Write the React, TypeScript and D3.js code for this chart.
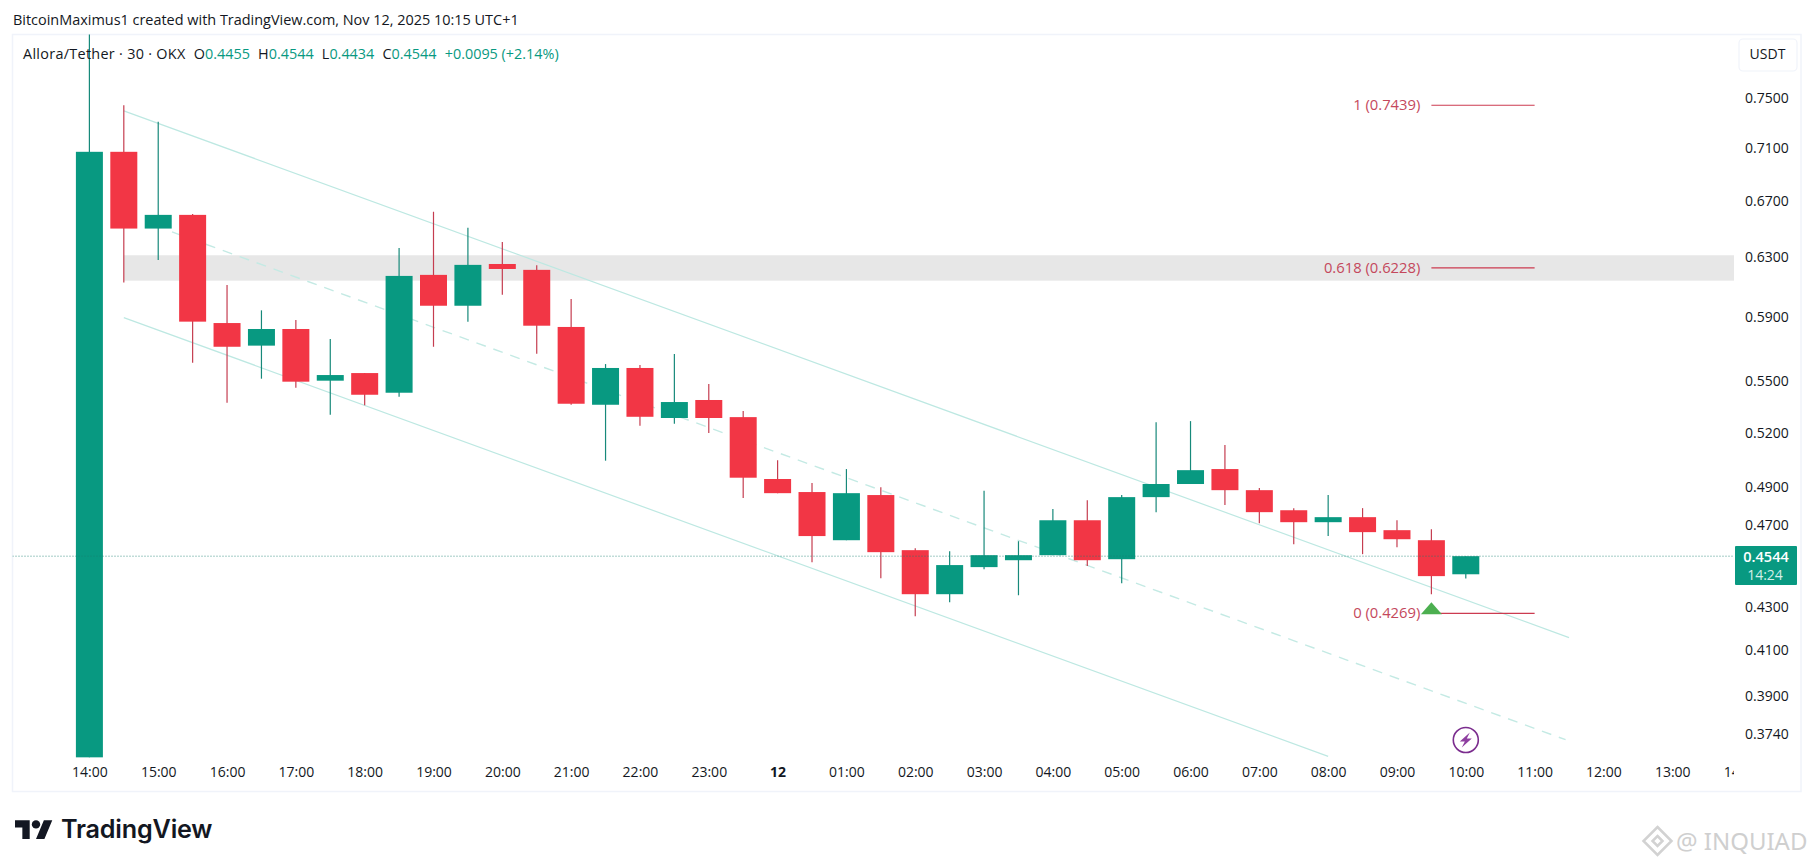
import { useEffect, useRef } from 'react';
import * as d3 from 'd3';

const WIDTH = 1814;
const HEIGHT = 867;
const FONT = '"Open Sans", "Noto Sans", sans-serif';
const GREEN = '#089981';
const RED = '#f23645';
const FIB_RED = '#c4485c';
const TEAL = '#bde8e2';

// 30 minute candles, starting at 14:00
const opens = [
  0.3647, 0.7070, 0.6501, 0.6599, 0.5863, 0.5720, 0.5825, 0.5505, 0.5551, 0.5433, 0.6180,
  0.5975, 0.6254, 0.6214, 0.5838, 0.5362, 0.5582, 0.5285, 0.5390, 0.5290, 0.4944, 0.4874,
  0.4624, 0.4858, 0.4574, 0.4359, 0.4490, 0.4524, 0.4549, 0.4726, 0.4529, 0.4847, 0.4917,
  0.4998, 0.4884, 0.4778, 0.4716, 0.4742, 0.4675, 0.4624, 0.4455,
];
const highs = [
  0.8100, 0.7439, 0.7306, 0.6606, 0.6112, 0.5945, 0.5883, 0.5762, 0.5551, 0.6365, 0.6621,
  0.6506, 0.6407, 0.6245, 0.6020, 0.5606, 0.5600, 0.5668, 0.5485, 0.5325, 0.5047, 0.4922,
  0.4998, 0.4900, 0.4584, 0.4569, 0.4881, 0.4619, 0.4784, 0.4831, 0.4858, 0.5261, 0.5267,
  0.5131, 0.4895, 0.4789, 0.4858, 0.4789, 0.4726, 0.4680, 0.4544,
];
const lows = [
  0.3647, 0.6128, 0.6282, 0.5614, 0.5374, 0.5517, 0.5463, 0.5304, 0.5359, 0.5409, 0.5713,
  0.5872, 0.6048, 0.5670, 0.5362, 0.5044, 0.5240, 0.5252, 0.5199, 0.4843, 0.4868, 0.4514,
  0.4624, 0.4436, 0.4255, 0.4321, 0.4480, 0.4354, 0.4549, 0.4495, 0.4412, 0.4768, 0.4917,
  0.4805, 0.4711, 0.4604, 0.4645, 0.4554, 0.4589, 0.4359, 0.4434,
];
const closes = [
  0.7070, 0.6501, 0.6599, 0.5872, 0.5713, 0.5825, 0.5499, 0.5539, 0.5421, 0.6173, 0.5975,
  0.6248, 0.6220, 0.5846, 0.5368, 0.5582, 0.5292, 0.5378, 0.5285, 0.4951, 0.4868, 0.4645,
  0.4868, 0.4564, 0.4359, 0.4500, 0.4549, 0.4549, 0.4726, 0.4524, 0.4847, 0.4917, 0.4992,
  0.4884, 0.4768, 0.4716, 0.4742, 0.4665, 0.4629, 0.4446, 0.4544,
];

const priceTicks = [0.75, 0.71, 0.67, 0.63, 0.59, 0.55, 0.52, 0.49, 0.47, 0.43, 0.41, 0.39, 0.374];
const timeLabels = [
  '14:00', '15:00', '16:00', '17:00', '18:00', '19:00', '20:00', '21:00', '22:00', '23:00', '12',
  '01:00', '02:00', '03:00', '04:00', '05:00', '06:00', '07:00', '08:00', '09:00', '10:00', '11:00',
  '12:00', '13:00', '14:00',
];

// drawings: [slot, price]
const channelUpper: [number, number][] = [[1, 0.7394], [43, 0.4157]];
const channelLower: [number, number][] = [[1, 0.5898], [36, 0.3651]];
const channelMid: [number, number][] = [[2.4, 0.6477], [42.9, 0.3718]];
const zoneTop = 0.6314;
const zoneBottom = 0.6141;
const fibLevels = [1, 0.618, 0];
const fibPrices = [0.7439, 0.6228, 0.4269];
const lastPrice = 0.4544;

const legendParts = [
  { t: 'O', c: '#131722' }, { t: '0.4455', c: GREEN }, { t: 'H', c: '#131722' }, { t: '0.4544', c: GREEN },
  { t: 'L', c: '#131722' }, { t: '0.4434', c: GREEN }, { t: 'C', c: '#131722' }, { t: '0.4544', c: GREEN },
  { t: '+0.0095 (+2.14%)', c: GREEN },
];

const App = () => {
  const svgRef = useRef<SVGSVGElement>(null);

  useEffect(() => {
    if (!svgRef.current) return;
    const svg = d3.select(svgRef.current);
    svg.selectAll('*').remove();

    const paneLeft = 12.5;
    const paneRight = 1734;
    const paneTop = 34.5;
    const paneBottom = 791.5;

    const x = d3.scaleLinear().domain([0, 48]).range([89.4, 89.4 + 48 * 34.41]);
    const y = d3.scaleLog().domain([0.374, 0.75]).range([734.3, 97.8]);

    const defs = svg.append('defs');
    defs.append('clipPath').attr('id', 'pane').append('rect')
      .attr('x', paneLeft).attr('y', paneTop)
      .attr('width', paneRight - paneLeft).attr('height', paneBottom - paneTop);

    // frame
    svg.append('rect')
      .attr('x', paneLeft).attr('y', paneTop)
      .attr('width', 1801 - paneLeft).attr('height', paneBottom - paneTop)
      .attr('fill', '#fff').attr('stroke', '#f0f3fa').attr('stroke-width', 1.5);

    svg.append('text')
      .attr('x', 13).attr('y', 25)
      .attr('font-family', FONT).attr('font-size', 14.45).attr('fill', '#131722')
      .text('BitcoinMaximus1 created with TradingView.com, Nov 12, 2025 10:15 UTC+1');

    const pane = svg.append('g').attr('clip-path', 'url(#pane)');

    // grey zone
    pane.append('rect')
      .attr('x', x(1)).attr('y', y(zoneTop))
      .attr('width', paneRight - x(1)).attr('height', y(zoneBottom) - y(zoneTop))
      .attr('fill', '#e7e7e7');

    // descending channel
    const line = d3.line<[number, number]>().x(d => x(d[0])).y(d => y(d[1]));
    pane.selectAll('path.channel')
      .data([channelUpper, channelLower])
      .join('path')
      .attr('class', 'channel')
      .attr('d', d => line(d))
      .attr('fill', 'none').attr('stroke', TEAL).attr('stroke-width', 1.2);
    pane.append('path')
      .attr('d', line(channelMid))
      .attr('fill', 'none').attr('stroke', '#c4eae4').attr('stroke-width', 1.4)
      .attr('stroke-dasharray', '10 8');

    // candles
    const slots = d3.range(opens.length);
    const bodyWidth = 27;
    const candles = pane.selectAll('g.candle').data(slots).join('g').attr('class', 'candle');
    candles.append('line')
      .attr('x1', i => x(i)).attr('x2', i => x(i))
      .attr('y1', i => y(highs[i])).attr('y2', i => y(lows[i]))
      .attr('stroke', i => closes[i] >= opens[i] ? '#17897a' : '#c53d50')
      .attr('stroke-width', 1.2);
    candles.append('rect')
      .attr('x', i => x(i) - bodyWidth / 2)
      .attr('width', bodyWidth)
      .attr('y', i => y(Math.max(opens[i], closes[i])))
      .attr('height', i => Math.abs(y(opens[i]) - y(closes[i])))
      .attr('fill', i => closes[i] >= opens[i] ? GREEN : RED);

    // last price line
    pane.append('line')
      .attr('x1', paneLeft).attr('x2', paneRight)
      .attr('y1', y(lastPrice)).attr('y2', y(lastPrice))
      .attr('stroke', '#1a7f72').attr('stroke-width', 1).attr('stroke-dasharray', '1 2')
      .attr('opacity', 0.8);

    // fib levels
    fibLevels.forEach((lvl, i) => {
      pane.append('line')
        .attr('x1', x(39)).attr('x2', x(42))
        .attr('y1', y(fibPrices[i])).attr('y2', y(fibPrices[i]))
        .attr('stroke', '#cc3b50').attr('stroke-width', 1.2);
      pane.append('text')
        .attr('x', x(39) - 11).attr('y', y(fibPrices[i]))
        .attr('dy', '0.32em').attr('text-anchor', 'end')
        .attr('font-family', FONT).attr('font-size', 14.8).attr('fill', FIB_RED)
        .text(`${lvl} (${fibPrices[i].toFixed(4)})`);
    });

    // arrow mark on the low
    const ax = x(39);
    const ay = y(fibPrices[2]);
    pane.append('path')
      .attr('d', `M${ax},${ay - 11}L${ax + 10.5},${ay + 1}L${ax - 10.5},${ay + 1}Z`)
      .attr('fill', '#4caf50');

    // lightning mark
    const bolt = pane.append('g').attr('transform', `translate(${x(40)},740)`);
    bolt.append('circle').attr('r', 12.5).attr('fill', '#fff').attr('stroke', '#7b2d8e').attr('stroke-width', 1.6);
    bolt.append('path').attr('d', 'M4,-7.5L-6,1.5L-1,1.5L-4,7.5L6,-1.5L1,-1.5Z').attr('fill', '#8e3fa0');

    // axes
    const xAxis = d3.axisBottom(x)
      .tickValues(timeLabels.map((_, i) => i * 2))
      .tickFormat((_, i) => timeLabels[i])
      .tickSize(0).tickPadding(0);
    const xg = pane.append('g').attr('transform', 'translate(0,767)').call(xAxis);
    xg.select('.domain').remove();
    xg.selectAll('text')
      .attr('font-family', FONT).attr('font-size', 14).attr('fill', '#131722')
      .attr('font-weight', (_, i) => timeLabels[i] === '12' ? 700 : 400);

    const yAxis = d3.axisRight(y)
      .tickValues(priceTicks)
      .tickFormat(d => d3.format('.4f')(d as number))
      .tickSize(0).tickPadding(0);
    const yg = svg.append('g').attr('transform', 'translate(1745,0)').call(yAxis);
    yg.select('.domain').remove();
    yg.selectAll('text')
      .attr('font-family', FONT).attr('font-size', 14).attr('fill', '#131722');

    // legend
    const legend = svg.append('text')
      .attr('x', 23).attr('y', 59)
      .attr('font-family', FONT).attr('font-size', 14.4).attr('fill', '#131722');
    legend.append('tspan').attr('letter-spacing', 0.3).text('Allora/Tether · 30 · OKX');
    legendParts.forEach((p, i) => {
      legend.append('tspan')
        .attr('dx', i % 2 === 1 && i < 8 ? 0 : 8.2)
        .attr('fill', p.c)
        .text(p.t);
    });

    // unit button
    svg.append('rect')
      .attr('x', 1739).attr('y', 39).attr('width', 58).attr('height', 32).attr('rx', 4)
      .attr('fill', '#fff').attr('stroke', '#f0f3fa').attr('stroke-width', 1.2);
    svg.append('text')
      .attr('x', 1767.5).attr('y', 59).attr('text-anchor', 'middle')
      .attr('font-family', FONT).attr('font-size', 14).attr('fill', '#131722')
      .text('USDT');

    // last price tag
    svg.append('rect')
      .attr('x', 1735).attr('y', 546).attr('width', 62).attr('height', 39).attr('rx', 1)
      .attr('fill', GREEN);
    svg.append('text')
      .attr('x', 1766).attr('y', y(lastPrice) + 5.5).attr('text-anchor', 'middle')
      .attr('font-family', FONT).attr('font-size', 14.5).attr('font-weight', 600).attr('fill', '#fff')
      .text(d3.format('.4f')(lastPrice));
    svg.append('text')
      .attr('x', 1765).attr('y', 580).attr('text-anchor', 'middle')
      .attr('font-family', FONT).attr('font-size', 14).attr('fill', '#d5efe9')
      .text('14:24');

    // TradingView logo
    const logo = svg.append('g').attr('transform', 'translate(15,816) scale(1.05)').attr('fill', '#131722');
    logo.append('path').attr('d', 'M14 22H7V11H0V4h14v18zM28 22h-8l7.5-18h8L28 22z');
    logo.append('circle').attr('cx', 20).attr('cy', 8).attr('r', 4);
    svg.append('text')
      .attr('x', 61).attr('y', 838)
      .attr('font-family', 'Inter, sans-serif').attr('font-size', 25.2).attr('font-weight', 600)
      .attr('letter-spacing', -0.2)
      .attr('fill', '#131722')
      .text('TradingView');

    // watermark
    const wm = svg.append('g').attr('transform', 'translate(1657.5,841)')
      .attr('fill', 'none').attr('stroke', '#d2d2d2').attr('stroke-width', 2.5);
    wm.append('path').attr('d', 'M0,-14L14,0L0,14L-14,0Z');
    wm.append('path').attr('d', 'M0,-5L5,0L0,5L-5,0Z');
    svg.append('text')
      .attr('x', 1676).attr('y', 850)
      .attr('font-family', '"Noto Sans", sans-serif').attr('font-size', 24).attr('fill', '#cfcfcf')
      .text('@ INQUIAD');
  }, []);

  return (
    <svg
      ref={svgRef}
      width={WIDTH}
      height={HEIGHT}
      style={{ position: 'absolute', left: 0, top: 0, background: '#fff' }}
    />
  );
};

export default App;
